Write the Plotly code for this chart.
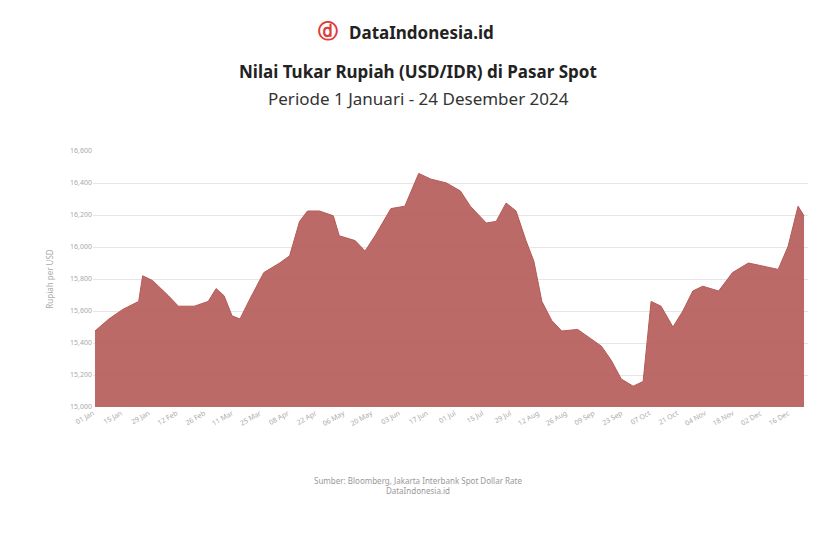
import plotly.graph_objects as go

dates = ["2024-01-02", "2024-01-09", "2024-01-16", "2024-01-24", "2024-01-26", "2024-01-31",
         "2024-02-08", "2024-02-13", "2024-02-21", "2024-02-28", "2024-03-03", "2024-03-07",
         "2024-03-11", "2024-03-15", "2024-03-20", "2024-03-27", "2024-04-04", "2024-04-09",
         "2024-04-14", "2024-04-18", "2024-04-24", "2024-05-01", "2024-05-04", "2024-05-12",
         "2024-05-17", "2024-05-22", "2024-05-30", "2024-06-06", "2024-06-13", "2024-06-19",
         "2024-06-27", "2024-07-04", "2024-07-09", "2024-07-17", "2024-07-22", "2024-07-27",
         "2024-08-01", "2024-08-06", "2024-08-10", "2024-08-14", "2024-08-19", "2024-08-24",
         "2024-09-01", "2024-09-06", "2024-09-13", "2024-09-18", "2024-09-23", "2024-09-29",
         "2024-10-04", "2024-10-08", "2024-10-13", "2024-10-19", "2024-10-24", "2024-10-29",
         "2024-11-03", "2024-11-11", "2024-11-18", "2024-11-26", "2024-12-04", "2024-12-11",
         "2024-12-16", "2024-12-21", "2024-12-24"]
kurs = [15475, 15550, 15610, 15660, 15820, 15790, 15695, 15630, 15630, 15660, 15740, 15695,
        15570, 15550, 15675, 15840, 15900, 15945, 16160, 16225, 16225, 16195, 16070, 16040,
        15975, 16070, 16240, 16255, 16460, 16425, 16400, 16350, 16255, 16150, 16160, 16275,
        16225, 16040, 15910, 15660, 15540, 15475, 15485, 15440, 15380, 15290, 15175, 15130,
        15160, 15660, 15630, 15500, 15600, 15725, 15755, 15725, 15840, 15900, 15880, 15860,
        16005, 16255, 16195]

fig = go.Figure(go.Scatter(
    x=dates, y=kurs, mode="lines", fill="tozeroy",
    line=dict(color="#b55a57", width=1), fillcolor="rgba(181,90,87,0.9)",
))

fig.update_layout(
    width=820, height=540,
    margin=dict(l=85, r=20, t=143, b=141),
    paper_bgcolor="white", plot_bgcolor="white",
    font=dict(family="Noto Sans", color="#333"),
    showlegend=False,
    xaxis=dict(tickformat="%d %b", dtick=14 * 86400000, tick0="2024-01-01",
               tickangle=-30, tickfont=dict(size=7, color="#aaa"), showgrid=False,
               range=["2024-01-01", "2024-12-26"]),
    yaxis=dict(range=[15000, 16600], dtick=200, tickformat=",", gridcolor="#e6e6e6",
               tickfont=dict(size=7, color="#aaa"),
               title=dict(text="Rupiah per USD", font=dict(size=8, color="#aaa"))),
    annotations=[
        dict(text="<b>ⓓ</b>", x=0.345, y=1.0, xref="paper", yref="paper", xanchor="right",
             yanchor="top", yshift=136, showarrow=False, font=dict(size=20, color="#e03a3a")),
        dict(text="<b>DataIndonesia.id</b>", x=0.355, y=1.0, xref="paper", yref="paper",
             xanchor="left", yanchor="top", yshift=132, showarrow=False,
             font=dict(size=17, color="#222")),
        dict(text="<b>Nilai Tukar Rupiah (USD/IDR) di Pasar Spot</b>", x=0.455, y=1.0,
             xref="paper", yref="paper", yanchor="top", yshift=93, showarrow=False,
             font=dict(size=17, color="#222")),
        dict(text="Periode 1 Januari - 24 Desember 2024", x=0.455, y=1.0, xref="paper",
             yref="paper", yanchor="top", yshift=66, showarrow=False,
             font=dict(size=17, color="#333")),
        dict(text="Sumber: Bloomberg, Jakarta Interbank Spot Dollar Rate<br>DataIndonesia.id",
             x=0.455, y=0, xref="paper", yref="paper", yanchor="top", yshift=-66,
             showarrow=False, font=dict(size=8, color="#999")),
    ],
)

fig.write_html("out.html")
